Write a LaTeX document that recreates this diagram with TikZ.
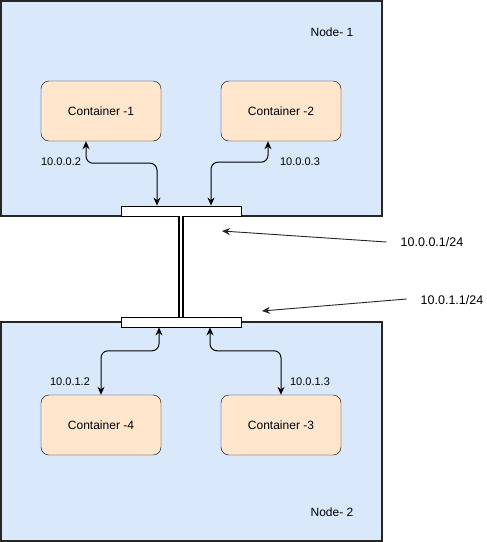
\documentclass[tikz,border=0pt]{standalone}
\usepackage{fontspec}
\setmainfont{Liberation Sans}
\usetikzlibrary{arrows.meta}

\definecolor{hostblue}{RGB}{218,232,252}
\definecolor{ctorange}{RGB}{255,230,204}

\begin{document}
\begin{tikzpicture}[
        x=1pt, y=-1pt,
        host/.style={rectangle, draw=black!85, fill=hostblue, line width=1.6pt, minimum width=381pt, minimum height=215pt},
        ctr/.style={rectangle, rounded corners=8pt, draw=black, fill=ctorange, minimum width=120pt, minimum height=60pt, font=\fontsize{12}{14}\selectfont},
        bridge/.style={rectangle, draw=black, fill=white, line width=0.9pt, minimum width=120pt, minimum height=10pt, inner sep=0pt},
        ip/.style={font=\fontsize{11}{13}\selectfont, inner sep=0pt},
        label/.style={font=\fontsize{12}{14}\selectfont, inner sep=0pt},
        link/.style={{Stealth[length=8pt,width=7pt]}-{Stealth[length=8pt,width=7pt]}, rounded corners=7pt, line width=1pt},
        pointer/.style={-{Stealth[length=8pt,width=7pt]}, line width=0.9pt, black!85},
    ]
    \useasboundingbox (0,0) rectangle (487,542);

    \node[host] (n1) at (191.5,108.5) {};
    \node[host, minimum height=219pt] (n2) at (191.5,431.5) {};
    \node[label] (n1lbl) at (332,32) {Node- 1};
    \node[label] (n2lbl) at (332,512) {Node- 2};

    \node[ctr] (c1) at (101,111) {Container -1};
    \node[ctr] (c2) at (281,111) {Container -2};
    \node[ctr] (c4) at (101,425) {Container -4};
    \node[ctr] (c3) at (281,425) {Container -3};

    \node[bridge] (br1) at (181,211) {};
    \node[bridge] (br2) at (181,322) {};

    \draw[line width=1.5pt, double=white, double distance=2.3pt] (br1.south) -- (br2.north);

    \draw[link] ([xshift=-15pt]c1.south) -- ++(0,22) -| ([xshift=-24pt]br1.north);
    \draw[link] ([xshift=-13pt]c2.south) -- ++(0,21) -| ([xshift=30pt]br1.north);
    \draw[link] (c4.north) -- ++(0,-44) -| ([xshift=-22pt]br2.south);
    \draw[link] (c3.north) -- ++(0,-44) -| ([xshift=29pt]br2.south);

    \node[ip] (ip2) at (61,162) {10.0.0.2};
    \node[ip] (ip3) at (300,162) {10.0.0.3};
    \node[ip] (ip12) at (70,382) {10.0.1.2};
    \node[ip] (ip13) at (310,382) {10.0.1.3};

    \node[label, font=\fontsize{12.5}{14}\selectfont] (gw1) at (432,242) {10.0.0.1/24};
    \node[label, font=\fontsize{12.5}{14}\selectfont] (gw2) at (452,300) {10.0.1.1/24};
    \coordinate (p1) at (222,231);
    \coordinate (p2) at (262,311);

    \draw[pointer] ([xshift=-14pt]gw1.west) -- (p1);
    \draw[pointer] ([xshift=-14pt,yshift=1pt]gw2.west) -- (p2);
\end{tikzpicture}
\end{document}
